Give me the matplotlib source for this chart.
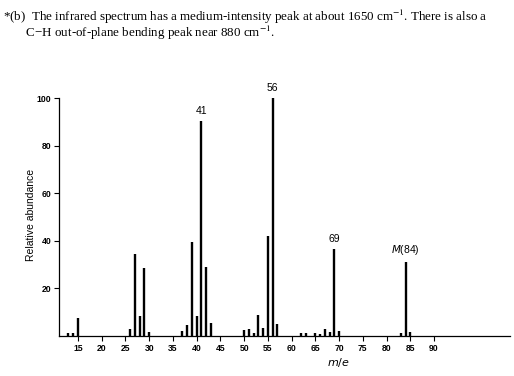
import matplotlib
matplotlib.use("Agg")
import matplotlib.pyplot as plt

# mass spectrum values (m/e, relative abundance)
mz = [13, 14, 15,
      26, 27, 28, 29, 30,
      37, 38, 39, 40, 41, 42, 43,
      50, 51, 52, 53, 54, 55, 56, 57,
      62, 63, 65, 66, 67, 68, 69, 70,
      83, 84, 85]
abundance = [1.4, 1.4, 7.5,
             3, 34.5, 8.3, 28.5, 1.5,
             2, 4.5, 39.5, 8.5, 90.5, 29, 5.3,
             2.4, 3, 1.2, 9, 3.2, 42, 100, 5,
             1.2, 1.2, 1.2, 1, 3, 1.5, 36.5, 2,
             1.2, 31, 1.8]

labelled = {41: "41", 56: "56", 69: "69", 84: "$M$(84)"}
xticks = [15, 20, 25, 30, 35, 40, 45, 50, 55, 60, 65, 70, 75, 80, 85, 90]
yticks = [20, 40, 60, 80, 100]

caption = ("*(b)  The infrared spectrum has a medium-intensity peak at about 1650 cm$^{-1}$. There is also a\n"
           "       C\u2212H out-of-plane bending peak near 880 cm$^{-1}$.")

fig = plt.figure(figsize=(5.14, 3.76), dpi=100)
fig.text(3 / 514, 1 - 37 / 376, caption, fontsize=9.4, family="Liberation Serif",
         math_fontfamily="stix", va="baseline", ha="left", linespacing=0.85)

ax = fig.add_axes([59 / 514, 40 / 376, 451 / 514, 238 / 376])
ax.vlines(mz, 0, abundance, colors="black", linewidth=1.7)

for m, text in labelled.items():
    h = abundance[mz.index(m)]
    ax.text(m, h + 2, text, ha="center", va="bottom",
            fontsize=7.5, family="Liberation Sans")

ax.set_xlim(11, 106)
ax.set_ylim(0, 100)
ax.set_xticks(xticks)
ax.set_yticks(yticks)
ax.tick_params(axis="both", direction="out", length=3.5, width=0.8,
               labelsize=6.2, pad=2)
for lab in ax.get_xticklabels() + ax.get_yticklabels():
    lab.set_fontweight("bold")
    lab.set_family("Liberation Sans")

for side in ["top", "right"]:
    ax.spines[side].set_visible(False)
ax.spines["left"].set_linewidth(0.9)
ax.spines["bottom"].set_linewidth(0.9)

ax.set_ylabel("Relative abundance", fontsize=7.5, family="Liberation Sans")
ax.yaxis.set_label_coords(-0.051, 0.51)
ax.text(0.62, -0.113, "$m/e$", transform=ax.transAxes, fontsize=8,
        ha="center", va="center")

fig.savefig("out.png", dpi=100)
